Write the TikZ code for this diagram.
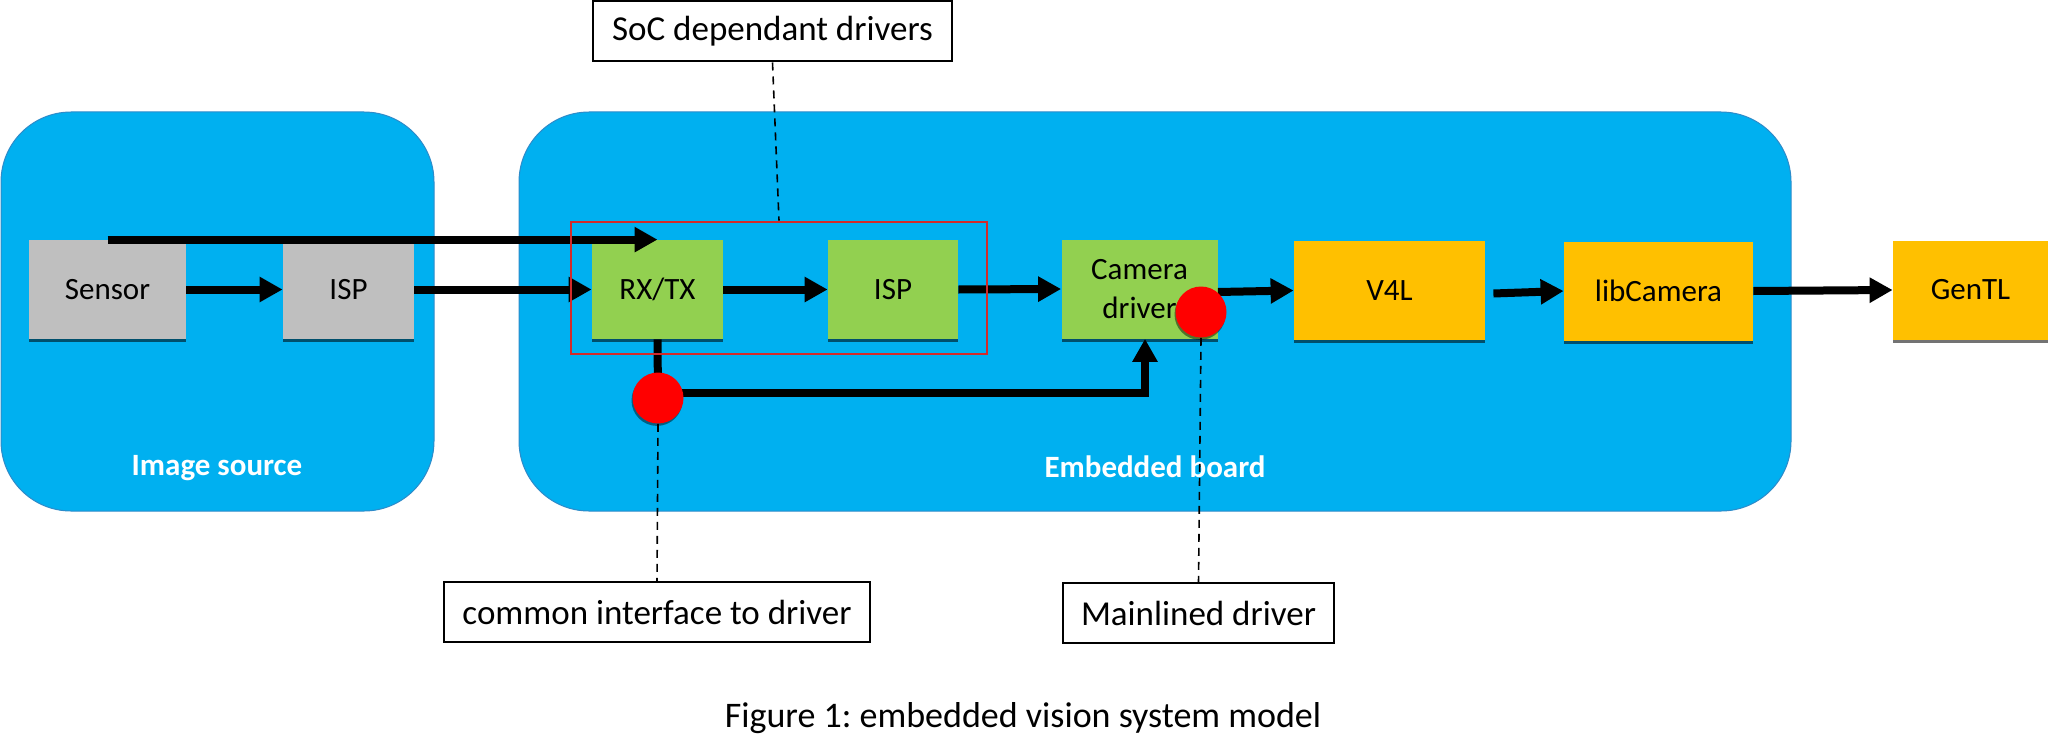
\documentclass[tikz,border=0pt]{standalone}
\usepackage{fontspec}
\setmainfont{Carlito}
\usetikzlibrary{arrows.meta,shadows,calc}
\definecolor{boardblue}{HTML}{00B0F0}
\definecolor{boardedge}{HTML}{2E8BC9}
\definecolor{greybox}{HTML}{BFBFBF}
\definecolor{greenbox}{HTML}{92D050}
\definecolor{orangebox}{HTML}{FFC000}
\definecolor{socred}{HTML}{D42A2A}
\definecolor{dotred}{HTML}{FF0000}
\frenchspacing
\begin{document}
\begin{tikzpicture}[x=0.5pt,y=-0.5pt,
  board/.style={fill=boardblue,draw=boardedge,line width=0.5pt,rounded corners=35pt},
  boardlabel/.style={font=\fontsize{15.5}{19}\selectfont\bfseries,text=white,inner sep=0pt},
  block/.style={minimum height=49.5pt,inner sep=0pt,align=center,
    font=\fontsize{15.5}{19.5}\selectfont,text=black,
    drop shadow={shadow xshift=0pt,shadow yshift=-1.5pt,opacity=0.55,fill=black}},
  tag/.style={draw=black,line width=1pt,fill=white,inner sep=0pt,minimum height=30pt,
    font=\fontsize{17.5}{21}\selectfont},
  flow/.style={line width=4pt,-{Triangle[length=11.5pt,width=12pt]}},
  plain/.style={line width=4pt},
  leader/.style={line width=0.8pt,dash pattern=on 4pt off 3pt},
  dot/.style={circle,fill=dotred,minimum size=25.5pt,inner sep=0pt,
    drop shadow={shadow xshift=-0.5pt,shadow yshift=-1.2pt,opacity=0.45,fill=black}},
]
\useasboundingbox (0,0) rectangle (2048,738);

% boards
\draw[board] (1,112) rectangle (434,511);
\draw[board] (519,112) rectangle (1791,511);
\node[boardlabel] (srclabel) at (217,468) {Image source};
\node[boardlabel] (boardlabel) at (1155,467) {Embedded board};

% blocks
\node[block,fill=greybox,minimum width=78.5pt] (sensor) at (107.5,289.5) {Sensor};
\node[block,fill=greybox,minimum width=65.5pt] (isp1) at (348.5,289.5) {ISP};
\node[block,fill=greenbox,minimum width=65.5pt] (rxtx) at (657.5,289.5) {RX/TX};
\node[block,fill=greenbox,minimum width=65pt] (isp2) at (893,289.5) {ISP};
\node[block,fill=greenbox,minimum width=78pt] (camera) at (1139.5,289) {Camera\\driver};
\node[block,fill=orangebox,minimum width=95.5pt] (v4l) at (1389.5,290.5) {V4L};
\node[block,fill=orangebox,minimum width=94.5pt] (libcam) at (1658.5,291) {libCamera};
\node[block,fill=orangebox,minimum width=77.5pt] (gentl) at (1970.5,290) {GenTL};

% labels
\node[tag,minimum width=179.5pt] (soc) at (772.5,31.5) {SoC dependant drivers};
\node[tag,minimum width=213pt] (common) at (657,612) {common interface to driver};
\node[tag,minimum width=135.5pt] (mainlined) at (1198.5,613) {Mainlined driver};

% connectors
\coordinate (d1) at (658,398);
\coordinate (d2) at (1201,312);
\draw[flow] (sensor.north) -- (rxtx.north);
\draw[flow] (sensor.east) -- (isp1.west);
\draw[flow] (isp1.east) -- (rxtx.west);
\draw[flow] (rxtx.east) -- (isp2.west);
\draw[flow] (isp2.east) -- (camera.west);
\draw[flow] ([yshift=-1.5pt]camera.east) -- (v4l.west);
\draw[flow] ([xshift=4pt,yshift=-1.5pt]v4l.east) -- (libcam.west);
\draw[flow] (libcam.east) -- (gentl.west);
\draw[plain] (rxtx.south) -- (d1);
\draw[flow] ([yshift=2.5pt]d1) -| ([xshift=2.75pt]camera.south);

% SoC group frame
\node[draw=socred,line width=1.3pt,minimum width=208pt,minimum height=66pt,inner sep=0pt] (socgroup) at (779,288) {};

% interface dots
\node[dot] (dot1) at (d1) {};
\node[dot] (dot2) at (d2) {};

% leaders
\draw[leader] (soc.south) -- (socgroup.north);
\draw[leader] (dot1.south) -- (common.north);
\draw[leader] (dot2.south) -- (mainlined.north);

% caption
\node[anchor=base,font=\fontsize{18}{22}\selectfont,inner sep=0pt] (caption) at (1023,727) {Figure 1: embedded vision system model};
\end{tikzpicture}
\end{document}
